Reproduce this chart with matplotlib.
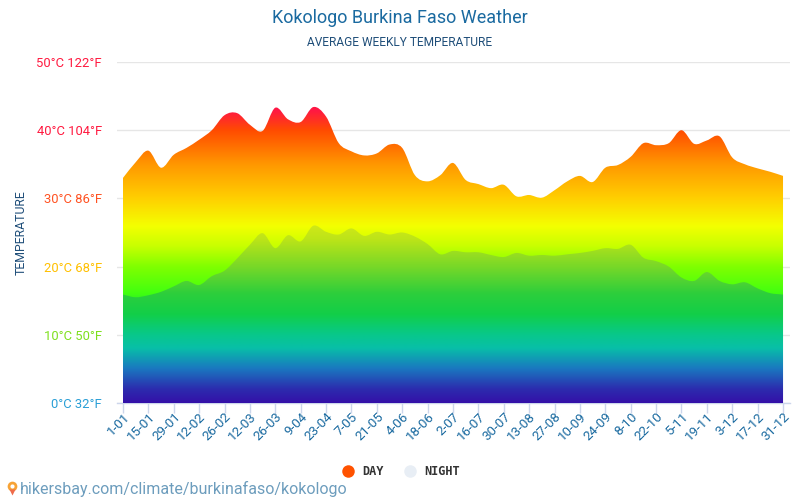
import numpy as np
import matplotlib
matplotlib.use('Agg')
import matplotlib.pyplot as plt
from matplotlib.colors import LinearSegmentedColormap
from matplotlib.lines import Line2D
from matplotlib.patches import PathPatch
from matplotlib.path import Path

plt.rcParams['font.family'] = ['Roboto', 'DejaVu Sans']

# weekly values
day_temp = [33.0, 35.3, 37.0, 34.5, 36.4, 37.4, 38.6, 40.0, 42.2, 42.5, 40.8, 39.9, 43.3, 41.6,
            41.2, 43.4, 42.0, 38.1, 36.9, 36.3, 36.6, 37.9, 37.4, 33.4, 32.5, 33.4, 35.2, 32.7,
            32.1, 31.5, 32.0, 30.3, 30.5, 30.1, 31.2, 32.5, 33.3, 32.4, 34.5, 34.9, 36.1, 38.1,
            37.8, 38.1, 40.0, 38.0, 38.5, 39.1, 36.0, 35.0, 34.4, 33.9, 33.3]
night_temp = [15.9, 15.5, 15.8, 16.3, 17.1, 17.9, 17.3, 18.6, 19.4, 21.2, 23.2, 24.9, 22.7, 24.6,
              23.7, 26.0, 25.1, 24.7, 25.6, 24.5, 25.1, 24.7, 25.0, 24.4, 23.3, 21.8, 22.3, 22.1,
              22.1, 21.7, 21.4, 22.0, 21.6, 21.7, 21.6, 21.8, 22.0, 22.3, 22.7, 22.6, 23.2, 21.3,
              20.8, 20.0, 18.4, 17.9, 19.2, 17.9, 17.4, 17.7, 16.8, 16.1, 15.9]
week_labels = ['1-01', '15-01', '29-01', '12-02', '26-02', '12-03', '26-03', '9-04', '23-04',
               '7-05', '21-05', '4-06', '18-06', '2-07', '16-07', '30-07', '13-08', '27-08',
               '10-09', '24-09', '8-10', '22-10', '5-11', '19-11', '3-12', '17-12', '31-12']
temp_ticks = [0, 10, 20, 30, 40, 50]
temp_labels = ['0°C 32°F', '10°C 50°F', '20°C 68°F', '30°C 86°F', '40°C 104°F', '50°C 122°F']
temp_colors = ['#2a9fd6', '#7fe01e', '#ffc000', '#ff5222', '#ff1a40', '#ff1a40']

day_stops = [(0, '#3410a8'), (2, '#2c2cae'), (5, '#1a78c0'), (8, '#08bfa8'), (10, '#08c88a'),
             (13, '#10d04c'), (16, '#40ff10'), (20, '#80ff00'), (23, '#c8ff00'), (26, '#f4ff00'),
             (30, '#ffd000'), (35, '#ff9800'), (40, '#ff4c00'), (43, '#ff1744'), (50, '#ff1744')]
night_stops = [(0, '#3410a8'), (2, '#2c2cae'), (5, '#1a78c0'), (8, '#08bfa8'), (10, '#08c88a'),
               (13, '#12cf48'), (16, '#2dce3c'), (20, '#78d828'), (24, '#bce418'), (26, '#d0e818'),
               (50, '#d0e818')]


def make_cmap(name, stops):
    return LinearSegmentedColormap.from_list(name, [(t / 50, c) for t, c in stops], N=512)


# smooth area outline through the points, closed along the bottom
def area_path(values):
    y = np.array(values, dtype=float)
    x = np.arange(len(y), dtype=float)
    slope = np.gradient(y)
    verts = [(x[0], 0), (x[0], y[0])]
    codes = [Path.MOVETO, Path.LINETO]
    for i in range(len(y) - 1):
        verts += [(x[i] + 1 / 3, y[i] + slope[i] / 3),
                  (x[i + 1] - 1 / 3, y[i + 1] - slope[i + 1] / 3),
                  (x[i + 1], y[i + 1])]
        codes += [Path.CURVE4] * 3
    verts += [(x[-1], 0), (x[0], 0)]
    codes += [Path.LINETO, Path.CLOSEPOLY]
    return Path(verts, codes)


def gradient_area(ax, values, cmap, z):
    grad = np.linspace(1, 0, 800).reshape(-1, 1)
    im = ax.imshow(grad, cmap=cmap, aspect='auto', vmin=0, vmax=1,
                   extent=(0, len(values) - 1, 0, 50), zorder=z, interpolation='bilinear')
    patch = PathPatch(area_path(values), transform=ax.transData, fc='none', ec='none')
    ax.add_patch(patch)
    im.set_clip_path(patch)


fig = plt.figure(figsize=(8, 5), dpi=100)
ax = fig.add_axes([117 / 800, 1 - 403 / 500, 673 / 800, 341 / 500])

gradient_area(ax, day_temp, make_cmap('day', day_stops), 2)
gradient_area(ax, night_temp, make_cmap('night', night_stops), 3)

ax.set_xlim(-0.47, 52.55)
ax.set_ylim(0, 50)

for s in ['top', 'right', 'left']:
    ax.spines[s].set_visible(False)
ax.spines['bottom'].set_color('#ccd6eb')
ax.spines['bottom'].set_linewidth(1)

ax.set_yticks(temp_ticks)
ax.set_yticklabels(temp_labels, fontsize=9.4)
for lab, c in zip(ax.get_yticklabels(), temp_colors):
    lab.set_color(c)
ax.tick_params(axis='y', length=0, pad=11)
ax.grid(axis='y', color='#e6e6e6', lw=1, zorder=1)
ax.set_axisbelow(True)

ax.set_xticks(np.arange(0, 53, 2))
ax.set_xticklabels(week_labels, rotation=45, ha='right', va='top', rotation_mode='anchor',
                   fontsize=9.6, color='#1a6aa0')
ax.tick_params(axis='x', length=7, width=1, color='#ccd6eb', pad=-2)

fig.text(21 / 800, 1 - 233 / 500, 'TEMPERATURE', rotation=90, ha='center', va='center',
         fontsize=8.8, color='#1f4e79')
fig.text(400 / 800, 1 - 18 / 500, 'Kokologo Burkina Faso Weather', ha='center', va='center',
         fontsize=13, color='#1a6aa0')
fig.text(400 / 800, 1 - 42 / 500, 'AVERAGE WEEKLY TEMPERATURE', ha='center', va='center',
         fontsize=8.6, color='#1f4e79')

# legend
for mx, col, label, tx in [(348, '#ff5200', 'DAY', 362), (410, '#e8eef5', 'NIGHT', 424)]:
    fig.add_artist(Line2D([mx / 800], [1 - 471 / 500], marker='o', ms=9, color=col, ls='none',
                          mec='none', transform=fig.transFigure))
    fig.text(tx / 800, 1 - 471.5 / 500, label, ha='left', va='center', fontsize=8.6,
             family='DejaVu Sans Mono', fontweight='bold', color='#333333')

# watermark with pin
fig.add_artist(Line2D([12 / 800], [1 - 486 / 500], marker='o', ms=7, color='#f7a335', ls='none',
                      mec='none', transform=fig.transFigure))
fig.add_artist(Line2D([12 / 800], [1 - 492 / 500], marker='v', ms=4.5, color='#ef6b4a', ls='none',
                      mec='none', transform=fig.transFigure))
fig.add_artist(Line2D([12 / 800], [1 - 486 / 500], marker='o', ms=3, color='white', ls='none',
                      mec='none', transform=fig.transFigure))
fig.text(20 / 800, 1 - 489 / 500, 'hikersbay.com/climate/burkinafaso/kokologo', ha='left', va='center',
         fontsize=11.55, color='#6d9dbd')

fig.savefig('out.png', dpi=100)
